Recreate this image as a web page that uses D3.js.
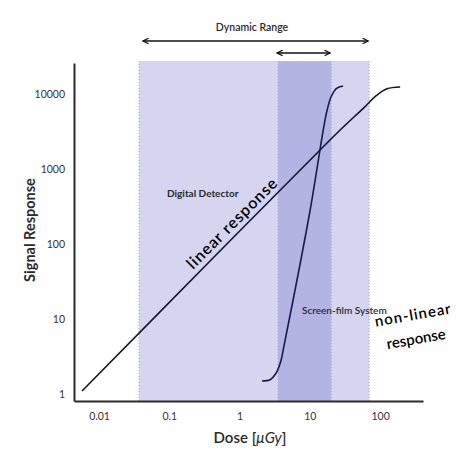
<!DOCTYPE html>
<html>
<head>
<meta charset="utf-8">
<script src="https://cdn.jsdelivr.net/npm/d3@7"></script>
<style>
  html, body { margin: 0; padding: 0; background: #fff; }
  svg { display: block; }
  text { font-family: Lato, "Open Sans", sans-serif; }
</style>
</head>
<body>
<svg id="chart" width="474" height="465"></svg>
<script>
// ---- data ----
const xTicks = [0.01, 0.1, 1, 10, 100];
const xTickLabels = ["0.01", "0.1", "1", "10", "100"];
const yTicks = [1, 10, 100, 1000, 10000];
const yTickLabels = ["1", "10", "100", "1000", "10000"];

// Digital detector (linear response, saturating at top)
const digitalDose   = [0.00573, 0.393, 13.1, 27.0, 60.0, 88.0, 125.0, 192.8];
const digitalSignal = [1.13,    63.1,  1738, 3415, 6900, 9800, 12100, 12790];

// Screen-film system (S-shaped response)
const filmDose   = [2.09, 2.72, 3.30, 3.85, 4.30, 10.1, 15.5, 17.4, 20.0, 24.0, 29.7];
const filmSignal = [1.54, 1.60, 1.95, 2.80, 4.60, 293,  3415, 6000, 9400, 12300, 13180];

// Dynamic range bands (dose)
const digitalRange = [0.037, 70];
const filmRange = [3.53, 20.1];

const svg = d3.select("#chart");

const x = d3.scaleLog().domain([Math.pow(10, -2.356), Math.pow(10, 2.61)]).range([74, 423]);
const y = d3.scaleLog().domain([Math.pow(10, -0.08), Math.pow(10, 4.427)]).range([401, 63]);

const yTop = 61;

// bands
svg.append("rect")
  .attr("x", x(digitalRange[0])).attr("y", yTop)
  .attr("width", x(digitalRange[1]) - x(digitalRange[0]))
  .attr("height", y.range()[0] - yTop)
  .attr("fill", "#d5d5f0");
svg.append("rect")
  .attr("x", x(filmRange[0])).attr("y", yTop)
  .attr("width", x(filmRange[1]) - x(filmRange[0]))
  .attr("height", y.range()[0] - yTop)
  .attr("fill", "#b4b4e4");

// dotted edges
[digitalRange[0], filmRange[0], filmRange[1], digitalRange[1]].forEach(d => {
  svg.append("line")
    .attr("x1", x(d)).attr("x2", x(d))
    .attr("y1", yTop).attr("y2", y.range()[0])
    .attr("stroke", "#a8a8c8").attr("stroke-width", 1)
    .attr("stroke-dasharray", "1,2");
});
svg.append("line")
  .attr("x1", x(digitalRange[0])).attr("x2", x(digitalRange[1]))
  .attr("y1", yTop + 0.5).attr("y2", yTop + 0.5)
  .attr("stroke", "#ccccdd").attr("stroke-width", 1)
  .attr("stroke-dasharray", "1,2");

// axes
const xAxis = d3.axisBottom(x).tickValues(xTicks)
  .tickFormat((d, i) => xTickLabels[i]).tickSize(0).tickPadding(12);
const yAxis = d3.axisLeft(y).tickValues(yTicks)
  .tickFormat((d, i) => yTickLabels[i]).tickSize(0).tickPadding(9);

const gx = svg.append("g").attr("transform", "translate(0,401)").call(xAxis);
const gy = svg.append("g").attr("transform", "translate(74,0)").call(yAxis);
[gx, gy].forEach(g => {
  g.select(".domain").attr("stroke", "#2a2a2a").attr("stroke-width", 2);
  g.selectAll("text").attr("fill", "#333").attr("font-size", 10.5)
    .attr("font-family", "Lato, sans-serif");
});
gy.selectAll(".tick text").attr("dy", "0.25em");

// curves
const line = d3.line()
  .x(d => x(d[0])).y(d => y(d[1]))
  .curve(d3.curveCatmullRom.alpha(0.5));

svg.append("path")
  .datum(digitalDose.map((d, i) => [d, digitalSignal[i]]))
  .attr("d", line)
  .attr("fill", "none").attr("stroke", "#141432").attr("stroke-width", 1.6);

svg.append("path")
  .datum(filmDose.map((d, i) => [d, filmSignal[i]]))
  .attr("d", line)
  .attr("fill", "none").attr("stroke", "#1a1a4a").attr("stroke-width", 1.6);

// arrows
const defs = svg.append("defs");
defs.append("marker").attr("id", "arrow")
  .attr("viewBox", "0 0 10 10").attr("refX", 9).attr("refY", 5)
  .attr("markerWidth", 7).attr("markerHeight", 7).attr("markerUnits", "userSpaceOnUse")
  .attr("orient", "auto-start-reverse")
  .append("path").attr("d", "M1,1 L9,5 L1,9")
  .attr("fill", "none").attr("stroke", "#111").attr("stroke-width", 1.8);

function arrow(x1, x2, yy) {
  svg.append("line")
    .attr("x1", x1).attr("x2", x2).attr("y1", yy).attr("y2", yy)
    .attr("stroke", "#111").attr("stroke-width", 1.6)
    .attr("marker-start", "url(#arrow)").attr("marker-end", "url(#arrow)");
}
arrow(x(digitalRange[0]) + 4, x(digitalRange[1]) - 1, 41);
arrow(x(filmRange[0]) - 1, x(filmRange[1]) - 1, 53);

svg.append("text").attr("x", 252).attr("y", 31).attr("text-anchor", "middle")
  .attr("font-size", 10.5).attr("font-weight", 600).attr("fill", "#2a2a2a")
  .text("Dynamic Range");

// labels in plot
svg.append("text").attr("x", 167).attr("y", 197)
  .attr("font-size", 10).attr("font-weight", 700).attr("fill", "#2a2a2a")
  .text("Digital Detector");
svg.append("text").attr("x", 302).attr("y", 314)
  .attr("font-size", 10).attr("font-weight", 600).attr("fill", "#2a2a3a")
  .text("Screen-film System");

// handwritten annotations
const hand = "'DejaVu Sans', sans-serif";
svg.append("text")
  .attr("transform", "translate(236,227) rotate(-45)")
  .attr("text-anchor", "middle")
  .attr("font-family", hand)
  .attr("font-size", 16).attr("font-weight", 600).attr("letter-spacing", 1)
  .attr("fill", "#000")
  .text("linear response");

svg.append("text")
  .attr("transform", "translate(414,320) rotate(-10)")
  .attr("text-anchor", "middle")
  .attr("font-family", hand)
  .attr("font-size", 15).attr("font-weight", 600).attr("letter-spacing", 1)
  .attr("fill", "#000")
  .text("non-linear");
svg.append("text")
  .attr("transform", "translate(417,344) rotate(-10)")
  .attr("text-anchor", "middle")
  .attr("font-family", hand)
  .attr("font-size", 15).attr("font-weight", 600)
  .attr("fill", "#000")
  .text("response");

// axis titles
svg.append("text")
  .attr("transform", "translate(35,230) rotate(-90)")
  .attr("text-anchor", "middle")
  .attr("font-size", 14.5).attr("font-weight", 700).attr("fill", "#2a2a2a")
  .text("Signal Response");

const xt = svg.append("text").attr("x", 250).attr("y", 443)
  .attr("text-anchor", "middle")
  .attr("font-size", 15).attr("font-weight", 600).attr("fill", "#2a2a2a");
xt.append("tspan").text("Dose [");
xt.append("tspan").attr("font-style", "italic").attr("font-weight", 400).text("μGy");
xt.append("tspan").text("]");
</script>
</body>
</html>
